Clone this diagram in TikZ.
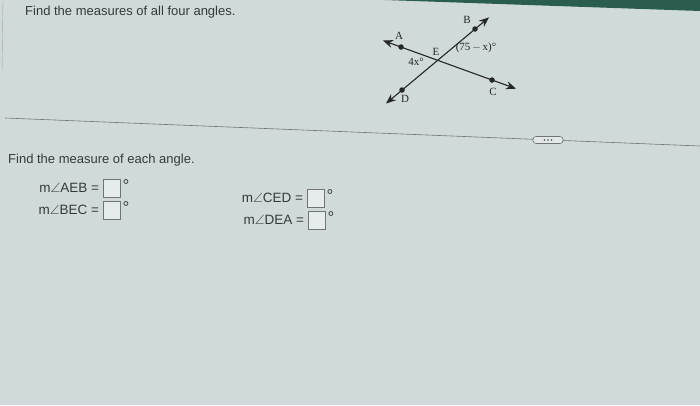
\documentclass[tikz,border=0pt]{standalone}
\usepackage{amsmath,amssymb}
\usepackage{fontspec}
\setmainfont{Liberation Serif}
\setsansfont{Liberation Sans}
\usepackage{tikz}
\usetikzlibrary{positioning,calc,arrows.meta}

\definecolor{screen}{HTML}{D1DADA}
\definecolor{barg}{HTML}{2B5D4F}
\definecolor{ink}{HTML}{35393A}

\tikzset{
  pt/.style={circle,fill=black!85,inner sep=0pt,minimum size=5.5pt},
  lbl/.style={font=\rmfamily\fontsize{11}{11}\selectfont,text=black!85,inner sep=1pt},
  ansbox/.style={draw=black!55,fill=white!45!screen,line width=0.6pt,minimum width=17pt,minimum height=18pt,inner sep=0pt},
  qtext/.style={font=\sffamily\fontsize{13}{13}\selectfont,text=ink,inner sep=0pt,anchor=west},
  eqtext/.style={font=\sffamily\fontsize{13.5}{13.5}\selectfont,text=ink,inner sep=0pt,anchor=east},
  deg/.style={font=\sffamily\fontsize{17}{17}\selectfont,text=ink,inner sep=0pt},
  ray/.style={line width=1.1pt,draw=black!85,{Stealth[length=10pt,width=8pt]}-{Stealth[length=10pt,width=8pt]}},
}

\begin{document}
\begin{tikzpicture}[x=1pt,y=-1pt]
    \fill[screen] (0,0) rectangle (700,405);
    \useasboundingbox (0,0) rectangle (700,405);

    % screen edges
    \fill[barg] (385,0) -- (700,0) -- (700,11) -- cycle;
    \draw[black!35,line width=0.4pt] (3,0) -- (2,72);

    % question
    \node[qtext] (q1) at (25,12) {Find the measures of all four angles.};

    % intersecting lines
    \coordinate (E) at (437.6,60.3);
    \node[pt] (A) at (401,47) {};
    \node[pt] (C) at (492,80) {};
    \node[pt] (D) at (402,90) {};
    \node[pt] (B) at (475,29) {};
    \coordinate (tA) at (383,40.5);
    \coordinate (tC) at (516,88.7);
    \coordinate (tD) at (386,103.5);
    \coordinate (tB) at (489,17.4);
    \draw[ray] (tA) -- (tC);
    \draw[ray] (tD) -- (tB);

    \node[lbl] (la) at (399,36) {A};
    \node[lbl] (lb) at (467,20) {B};
    \node[lbl] (lc) at (493,92) {C};
    \node[lbl] (ld) at (405,99) {D};
    \node[lbl] (le) at (436,52) {E};
    \node[lbl] (ang1) at (416,62) {4x\textdegree};
    \node[lbl] (ang2) at (476,48) {(75\,$-$\,x)\textdegree};

    % separator
    \draw[black!55,line width=0.6pt] (5,118) -- (700,146);
    \node[draw=black!55,fill=white!40!screen,rounded corners=3pt,line width=0.6pt,minimum width=30pt,minimum height=7pt,inner sep=0pt] (more) at (548,140) {};
    \foreach \i in {-1,0,1}
        \fill[black!70] ($(more)+(\i*3.5,0)$) circle (0.9pt);

    % answers
    \node[qtext] (q2) at (8,160) {Find the measure of each angle.};

    \node[ansbox] (b1) at (112,188) {};
    \node[ansbox] (b2) at (112,210) {};
    \node[ansbox] (b3) at (316,198) {};
    \node[ansbox] (b4) at (317,220) {};

    \node[eqtext] (e1) at ([xshift=-4pt]b1.west) {m$\angle$AEB =};
    \node[eqtext] (e2) at ([xshift=-4pt]b2.west) {m$\angle$BEC =};
    \node[eqtext] (e3) at ([xshift=-4pt]b3.west) {m$\angle$CED =};
    \node[eqtext] (e4) at ([xshift=-4pt]b4.west) {m$\angle$DEA =};

    \foreach \b in {b1,b2,b3,b4}
        \node[deg,anchor=west] at ([xshift=1.5pt,yshift=2pt]\b.east) {\textdegree};
\end{tikzpicture}
\end{document}
